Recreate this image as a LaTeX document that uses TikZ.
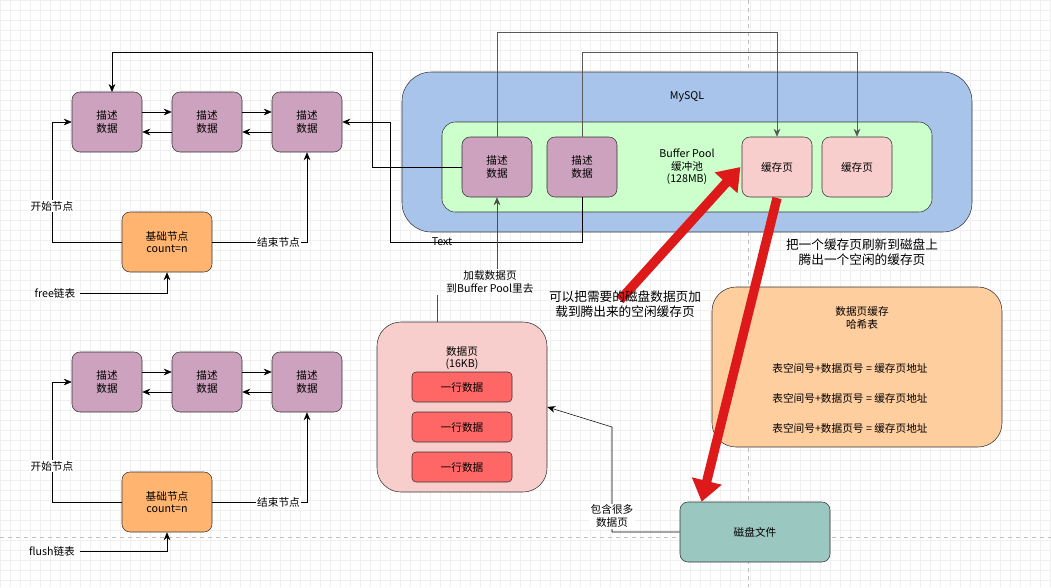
\documentclass[tikz,border=0pt]{standalone}
\usepackage{fontspec}
\setmainfont{Noto Sans CJK SC}
\usetikzlibrary{arrows.meta}
\definecolor{desc}{HTML}{CDA2BE}
\definecolor{base}{HTML}{FFB570}
\definecolor{mysql}{HTML}{A9C4EB}
\definecolor{pool}{HTML}{CCFFCC}
\definecolor{cache}{HTML}{F8CECC}
\definecolor{row}{HTML}{FF6666}
\definecolor{disk}{HTML}{9AC7BF}
\definecolor{hash}{HTML}{FFCE9F}
\begin{document}
\begin{tikzpicture}[x=0.75pt,y=-0.75pt,
  font=\fontsize{8}{9.5}\selectfont,
  box/.style={draw=black!80, rounded corners=6pt, align=center, inner sep=0pt},
  d/.style={box, fill=desc, minimum width=52.5pt, minimum height=45pt},
  b/.style={box, fill=base, minimum width=67.5pt, minimum height=45pt},
  cp/.style={box, fill=cache, minimum width=52.5pt, minimum height=45pt},
  r/.style={box, rounded corners=3pt, fill=row, minimum width=75pt, minimum height=22.5pt},
  a/.style={-{Stealth[length=6pt,width=5pt]}, black},
  big/.style={line width=7pt, red!85!black!90, -{Triangle[length=16pt,width=22pt]}},
  lbl/.style={fill=white, inner sep=1pt, align=center}
]
\useasboundingbox (0,0) rectangle (1051,587);
\fill[white] (0,0) rectangle (1051,587);
\draw[black!6, step=7.5pt] (0,0) grid (1051,587);
\draw[black!25, dashed] (748,0) -- (748,587);
\draw[black!25, dashed] (0,537) -- (1051,537);

% containers
\node[box, rounded corners=22pt, fill=mysql, minimum width=427.5pt, minimum height=120pt] (mysql) at (687,152) {};
\node at (687,97) {MySQL};
\node[box, rounded corners=10pt, fill=pool, minimum width=367.5pt, minimum height=67.5pt] (pool) at (687,167) {};
\node[align=center] (pooltxt) at (687,167) {Buffer Pool\\缓冲池\\(128MB)};

% top free list
\node[d] (d1) at (107,122) {描述\\数据};
\node[d] (d2) at (207,122) {描述\\数据};
\node[d] (d3) at (307,122) {描述\\数据};
\node[b] (b1) at (167,242) {基础节点\\count=n};
\node (free) at (55,293) {free链表};
\draw[a] ([yshift=7.5pt]d1.east) -- ([yshift=7.5pt]d2.west);
\draw[a] ([yshift=7.5pt]d2.east) -- ([yshift=7.5pt]d3.west);
\draw[a] ([yshift=-7.5pt]d2.west) -- ([yshift=-7.5pt]d1.east);
\draw[a] ([yshift=-7.5pt]d3.west) -- ([yshift=-7.5pt]d2.east);
\draw[a] (b1.west) -- (52,242) -- node[lbl, pos=0.3] {开始节点} (52,122) -- (d1.west);
\draw[a] (b1.east) -- node[lbl, pos=0.7] {结束节点} (307,242) -- (d3.south);
\draw[a] (free.east) -- (167,293) -- (b1.south);

% bottom flush list
\node[d] (e1) at (107,382) {描述\\数据};
\node[d] (e2) at (207,382) {描述\\数据};
\node[d] (e3) at (307,382) {描述\\数据};
\node[b] (b2) at (167,502) {基础节点\\count=n};
\node (flush) at (52,551) {flush链表};
\draw[a] ([yshift=7.5pt]e1.east) -- ([yshift=7.5pt]e2.west);
\draw[a] ([yshift=7.5pt]e2.east) -- ([yshift=7.5pt]e3.west);
\draw[a] ([yshift=-7.5pt]e2.west) -- ([yshift=-7.5pt]e1.east);
\draw[a] ([yshift=-7.5pt]e3.west) -- ([yshift=-7.5pt]e2.east);
\draw[a] (b2.west) -- (52,502) -- node[lbl, pos=0.3] {开始节点} (52,382) -- (e1.west);
\draw[a] (b2.east) -- node[lbl, pos=0.7] {结束节点} (307,502) -- (e3.south);
\draw[a] (flush.east) -- (167,551) -- (b2.south);

% buffer pool contents
\node[d] (p1) at (497,167) {描述\\数据};
\node[d] (p2) at (582,167) {描述\\数据};
\node[cp] (c1) at (777,167) {缓存页};
\node[cp] (c2) at (857,167) {缓存页};
\draw[a, black!65] (p1.north) -- (497,32) -- (777,32) -- (c1.north);
\draw[a, black!65] (p2.north) -- (582,52) -- (857,52) -- (c2.north);
\draw[a] (p1.west) -- (372,167) -- (372,52) -- (112,52) -- (112,92);
\draw[a] (p2.south) -- (582,242) -- (390,242) -- (390,122) -- (d3.east);
\node (txt) at (442,242) {Text};

% data page
\node[box, rounded corners=18pt, fill=cache, minimum width=127.5pt, minimum height=127.5pt] (dp) at (462,407) {};
\node[align=center] (dptxt) at (462,358) {数据页\\(16KB)};
\node[r] (r1) at (462,387) {一行数据};
\node[r] (r2) at (462,427) {一行数据};
\node[r] (r3) at (462,467) {一行数据};
\node[lbl, fill=none] (load) at (490,282) {加载数据页\\到Buffer Pool里去};
\draw[black!70] (437,322) -- (load.south -| 437,0);
\draw[a, black!70] (load.north -| 497,0) -- (p1.south);

% disk
\node[box, fill=disk, minimum width=112.5pt, minimum height=45pt] (disk) at (755,532) {磁盘文件};
\draw[a] (disk.west) -- (612,532) -- node[lbl, pos=0.15] {包含很多\\数据页} (612,427) -- (dp.east);

% hash table
\node[box, rounded corners=18pt, fill=hash, minimum width=217.5pt, minimum height=120pt] (hash) at (857,367) {};
\node[align=center] (htitle) at (862,318) {数据页缓存\\哈希表};
\node (h1) at (850,368) {表空间号+数据页号 = 缓存页地址};
\node (h2) at (850,398) {表空间号+数据页号 = 缓存页地址};
\node (h3) at (850,428) {表空间号+数据页号 = 缓存页地址};

% big arrows
\coordinate (s1) at (620,300);
\coordinate (s2) at (777,198);
\draw[big] (s1) -- ([xshift=-1pt]c1.west);
\draw[big] (s2) -- ([xshift=-40pt]disk.north);
\node[align=center, font=\fontsize{9.5}{11}\selectfont] (t1) at (862,252) {把一个缓存页刷新到磁盘上\\腾出一个空闲的缓存页};
\node[align=center, font=\fontsize{9.5}{11}\selectfont] (t2) at (625,304) {可以把需要的磁盘数据页加\\载到腾出来的空闲缓存页};
\end{tikzpicture}
\end{document}
